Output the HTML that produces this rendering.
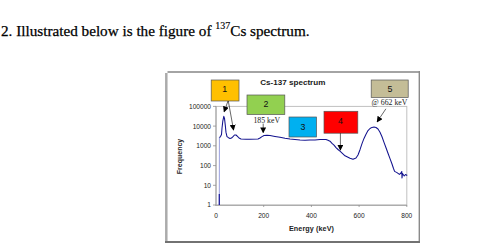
<!DOCTYPE html>
<html><head><meta charset="utf-8">
<style>
html,body{margin:0;padding:0;background:#fff;width:489px;height:250px;overflow:hidden;position:relative}
.hdr{position:absolute;left:1px;top:22px;font-family:"Liberation Serif",serif;font-size:15.2px;line-height:17px;color:#000;white-space:nowrap;-webkit-text-stroke:0.25px #000}
.hdr sup{font-size:10px;vertical-align:0;position:relative;top:-7.3px;-webkit-text-stroke:0.15px #000}
svg{position:absolute;left:0;top:0}
</style></head><body>
<div class="hdr">2. Illustrated below is the figure of <sup>137</sup>Cs spectrum.</div>
<svg width="489" height="250" viewBox="0 0 489 250">
  <defs>
    <marker id="ah" markerWidth="6" markerHeight="6" refX="5" refY="3" orient="auto" markerUnits="userSpaceOnUse">
      <path d="M0,0 L6,3 L0,6 z" fill="#000"/>
    </marker>
  </defs>
  <!-- frame -->
  <rect x="166" y="72" width="253" height="170" fill="#fff" stroke="none"/>
  <line x1="167.5" y1="72" x2="419" y2="72" stroke="#a4a4a4" stroke-width="2"/>
  <line x1="166.3" y1="73" x2="166.3" y2="242" stroke="#ababab" stroke-width="2.5"/>
  <line x1="419.3" y1="71" x2="419.3" y2="242" stroke="#8a8a8a" stroke-width="1.4"/>
  <line x1="165" y1="242" x2="420" y2="242" stroke="#727272" stroke-width="1.9"/>
  <!-- plot area -->
  <rect x="216" y="106.4" width="190.8" height="98.6" fill="none" stroke="#c0c0c0" stroke-width="1"/>
  <line x1="216" y1="106" x2="216" y2="205.5" stroke="#a0a0a0" stroke-width="1"/>
  <line x1="215.5" y1="205.3" x2="407" y2="205.3" stroke="#a0a0a0" stroke-width="1"/>
  <!-- y ticks -->
  <g stroke="#909090" stroke-width="0.8">
    <line x1="213" y1="106.4" x2="216" y2="106.4"/>
    <line x1="213" y1="126.1" x2="216" y2="126.1"/>
    <line x1="213" y1="145.8" x2="216" y2="145.8"/>
    <line x1="213" y1="165.6" x2="216" y2="165.6"/>
    <line x1="213" y1="185.3" x2="216" y2="185.3"/>
    <line x1="213" y1="205" x2="216" y2="205"/>
    <line x1="263.7" y1="205" x2="263.7" y2="207"/>
    <line x1="311.4" y1="205" x2="311.4" y2="207"/>
    <line x1="359.1" y1="205" x2="359.1" y2="207"/>
    <line x1="406.8" y1="205" x2="406.8" y2="207"/>
  </g>
  <g font-family="Liberation Sans, sans-serif" font-size="6.6" fill="#222" text-anchor="end">
    <text x="211" y="108.8">100000</text>
    <text x="211" y="128.5">10000</text>
    <text x="211" y="148.2">1000</text>
    <text x="211" y="168">100</text>
    <text x="211" y="187.7">10</text>
    <text x="211" y="207.4">1</text>
  </g>
  <g font-family="Liberation Sans, sans-serif" font-size="6.6" fill="#222" text-anchor="middle">
    <text x="216" y="217.5">0</text>
    <text x="263.7" y="217.5">200</text>
    <text x="311.4" y="217.5">400</text>
    <text x="359.1" y="217.5">600</text>
    <text x="406.8" y="217.5">800</text>
  </g>
  <text x="311.5" y="230.7" font-family="Liberation Sans, sans-serif" font-size="7.2" font-weight="bold" fill="#222" text-anchor="middle" letter-spacing="0.1">Energy (keV)</text>
  <text transform="translate(182.4,156.5) rotate(-90)" font-family="Liberation Sans, sans-serif" font-size="7" font-weight="bold" fill="#2a2a2a" text-anchor="middle">Frequency</text>
  <text x="292.8" y="84.6" font-family="Liberation Sans, sans-serif" font-size="8.1" font-weight="bold" fill="#1a1a1a" text-anchor="middle">Cs-137 spectrum</text>
  <!-- spectrum -->
  <line x1="219.3" y1="205" x2="219.4" y2="137" stroke="#7f86d6" stroke-width="0.8"/>
  <line x1="219.3" y1="205" x2="219.3" y2="194" stroke="#1a1a9a" stroke-width="1.2"/>
  <polyline fill="none" stroke="#12128e" stroke-width="1.05" stroke-linejoin="round"
    points="219.5,137.5 220.5,136.6 221.5,134.5 222,128.2 222.8,121.2 223.8,116.3 224.5,118.4 225.3,125.4 226,132.4 227,136.6 228.5,137.7 230,138.4 231.5,138 233,136.6 234.5,135 236,135 237.5,136.4 239,138 241,139 246,139.3 250,139.2 258,139 260,138 262,136.6 264,135.5 267,135.2 270,135.5 275,136.4 280,137.3 285,138.3 290,139.1 300,140 305,140.3 310,140 315,140 320,139.5 326,139.5 328,140.3 330,141.2 332,143.4 334,145.2 336,147.6 338,149.5 340,151.2 345,155.8 350,158.2 353,159.2 356,158 358,155 360,149.7 362,143.6 364,138.4 366,134.2 368,130.6 370,128.5 372,127.4 374,127.1 376,127.5 378,129 380,132.3 382,136.8 384,142.4 386,147.8 388,153.2 390,158.6 392,164 393.5,168.5 394.6,171.4 397,172.6 399.4,174.4 401,173 401.8,171.5 402,178 402.5,173.5 404.2,176 405.5,174.5 407.2,175.5"/>
  <!-- boxes -->
  <g stroke="#555" stroke-width="0.7">
    <rect x="211.2" y="80" width="27.8" height="21" fill="#ffc000"/>
    <rect x="247" y="95" width="37.8" height="19.5" fill="#92d050"/>
    <rect x="289" y="117" width="27.5" height="20" fill="#00b0f0"/>
    <rect x="324" y="111.3" width="33.8" height="21.9" fill="#ff0000"/>
    <rect x="371.2" y="80" width="37" height="17.5" fill="#c4bd97"/>
  </g>
  <g font-family="Liberation Sans, sans-serif" font-size="8.8" fill="#111" text-anchor="middle">
    <text x="224.6" y="92.1">1</text>
    <text x="266" y="107.2">2</text>
    <text x="303" y="129.6">3</text>
    <text x="340.5" y="123.9">4</text>
    <text x="390" y="91.8">5</text>
  </g>
  <g font-family="Liberation Serif, serif" font-size="7.8" fill="#222" text-anchor="middle">
    <text x="266.8" y="122.8">185 keV</text>
    <text x="389.5" y="104.8">@ 662 keV</text>
  </g>
  <!-- arrows -->
  <g stroke="#000" stroke-width="0.6" marker-end="url(#ah)">
    <line x1="228" y1="101" x2="224.2" y2="111.5"/>
    <line x1="228.3" y1="101" x2="233.5" y2="129.8"/>
    <line x1="263.2" y1="123.6" x2="263.2" y2="132.4"/>
    <line x1="340.4" y1="133.2" x2="340.4" y2="149.8"/>
    <line x1="385.9" y1="108.8" x2="377.3" y2="121.6"/>
  </g>
</svg>
</body></html>
